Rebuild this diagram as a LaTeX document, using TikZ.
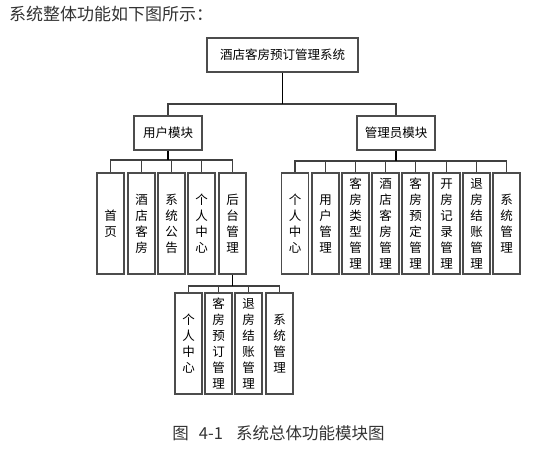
\documentclass[tikz,border=0pt]{standalone}
\usepackage{fontspec}
\newfontfamily\cjk{Noto Sans CJK SC}
\begin{document}
\begin{tikzpicture}[x=1pt,y=-1pt,
  box/.style={draw=black!70,line width=1.2pt,fill=white,inner sep=0pt,font=\cjk\fontsize{12.5}{16}\selectfont,align=center},
  vbox/.style={box,minimum width=27pt,minimum height=101pt,text width=14pt},
  hbox/.style={box,minimum height=34pt},
  stem/.style={draw=black,line width=1.7pt},
  conn/.style={draw=black!75,line width=1.1pt}]
\useasboundingbox (0,0) rectangle (535,457);
\node[anchor=west,font=\cjk\fontsize{17}{19}\selectfont,text=black!80,inner sep=0pt] (intro) at (9,14) {系统整体功能如下图所示：};
\node[hbox,minimum width=151pt] (top) at (282.5,55) {酒店客房预订管理系统};
\node[hbox,minimum width=68pt] (um) at (168,133) {用户模块};
\node[hbox,minimum width=78pt] (am) at (396,133) {管理员模块};
% user module children
\node[vbox] (u1) at (110.5,223.5) {首\\页};
\node[vbox] (u2) at (141.5,223.5) {酒\\店\\客\\房};
\node[vbox] (u3) at (171.5,223.5) {系\\统\\公\\告};
\node[vbox] (u4) at (201.5,223.5) {个\\人\\中\\心};
\node[vbox] (u5) at (232.5,223.5) {后\\台\\管\\理};
% admin module children
\node[vbox] (a1) at (295,223.5) {个\\人\\中\\心};
\node[vbox] (a2) at (325.5,223.5) {用\\户\\管\\理};
\node[vbox] (a3) at (355.5,223.5) {客\\房\\类\\型\\管\\理};
\node[vbox] (a4) at (385.5,223.5) {酒\\店\\客\\房\\管\\理};
\node[vbox] (a5) at (415.5,223.5) {客\\房\\预\\定\\管\\理};
\node[vbox] (a6) at (446.5,223.5) {开\\房\\记\\录\\管\\理};
\node[vbox] (a7) at (476.5,223.5) {退\\房\\结\\账\\管\\理};
\node[vbox] (a8) at (506.5,223.5) {系\\统\\管\\理};
% back-end children
\node[vbox] (b1) at (188.5,343.5) {个\\人\\中\\心};
\node[vbox] (b2) at (218.5,343.5) {客\\房\\预\\订\\管\\理};
\node[vbox] (b3) at (248.5,343.5) {退\\房\\结\\账\\管\\理};
\node[vbox] (b4) at (279.5,343.5) {系\\统\\管\\理};
% buses
\coordinate (bus0) at (282.5,104);
\coordinate (busu) at (168,160);
\coordinate (busa) at (396,161);
\coordinate (busb) at (232.5,286);
\draw[conn] (bus0) -| (um.north);
\draw[conn] (bus0) -| (am.north);
\draw[stem] (top.south) -- (bus0);
\foreach \n in {u1,u2,u3,u4,u5} \draw[conn] (busu) -| (\n.north);
\draw[stem] (um.south) -- (busu);
\foreach \n in {a1,a2,a3,a4,a5,a6,a7,a8} \draw[conn] (busa) -| (\n.north);
\draw[stem] (am.south) -- (busa);
\foreach \n in {b1,b2,b3,b4} \draw[conn] (busb) -| (\n.north);
\draw[stem] (u5.south) -- (busb);
\node[font=\cjk\fontsize{16.5}{18}\selectfont,text=black!80,inner sep=0pt] (cap) at (278.5,433) {图\hspace{10pt}4-1\hspace{13pt}系统总体功能模块图};
\end{tikzpicture}
\end{document}
